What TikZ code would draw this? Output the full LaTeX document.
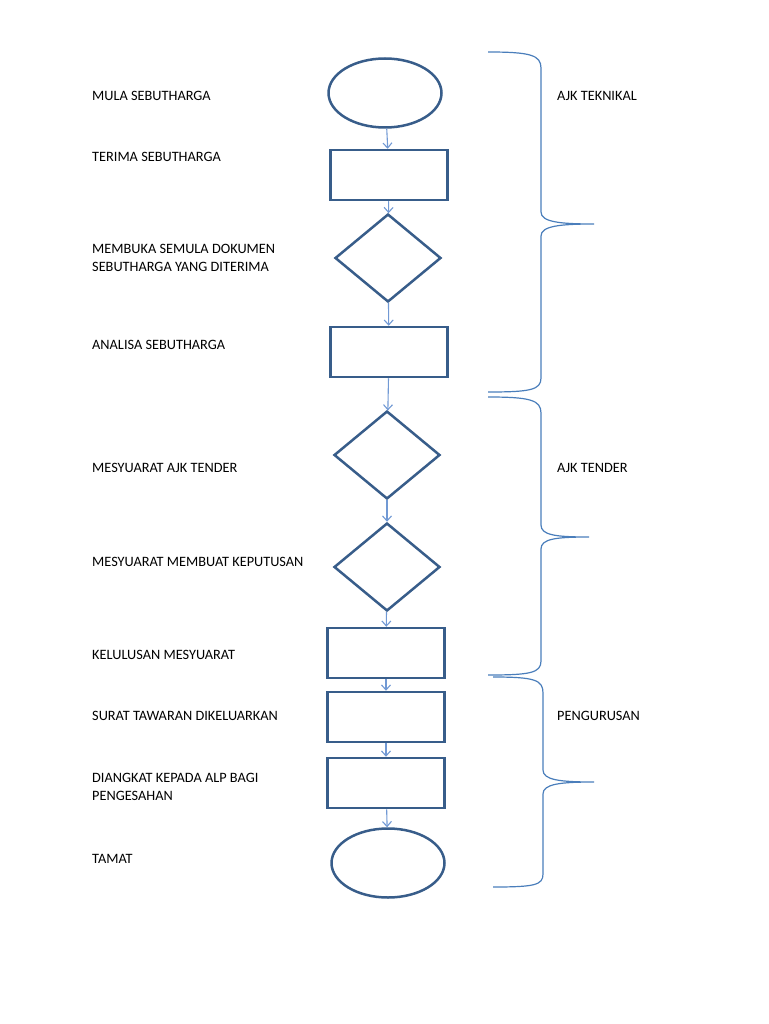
\documentclass[tikz,border=0pt]{standalone}
\usepackage{fontspec}
\setmainfont{Carlito}
\usetikzlibrary{shapes.geometric,arrows.meta}

\definecolor{shapeblue}{HTML}{385D8A}
\definecolor{arrowblue}{HTML}{7199D4}
\definecolor{braceblue}{HTML}{4A7EBB}

\begin{document}
\begin{tikzpicture}[x=1pt, y=-1pt,
    every node/.style={font=\fontsize{14.3}{17.5}\selectfont},
    endpoint/.style={ellipse, draw=shapeblue, line width=2.5pt, minimum width=113pt, minimum height=69pt},
    process/.style={rectangle, draw=shapeblue, line width=2.5pt, minimum width=117pt, minimum height=50pt},
    decision/.style={diamond, draw=shapeblue, line width=2.5pt, minimum width=106pt, minimum height=88pt, inner sep=0pt},
    flow/.style={draw=arrowblue, line width=1.1pt, -{Straight Barb[length=5pt,width=9pt]}},
    brace/.style={draw=braceblue, line width=1.2pt},
    label/.style={anchor=west, align=left, inner sep=0pt}]
    \useasboundingbox (0,0) rectangle (768,1024);

    % flow shapes
    \node[endpoint] (mula) at (385,93) {};
    \node[process] (terima) at (389,175) {};
    \node[decision] (buka) at (388,258) {};
    \node[process] (analisa) at (389,352) {};
    \node[decision] (ajk) at (387,455) {};
    \node[decision] (putus) at (387,567) {};
    \node[process] (lulus) at (386,653) {};
    \node[process] (surat) at (386,717) {};
    \node[process] (angkat) at (386,783) {};
    \node[endpoint] (tamat) at (388,863) {};

    % connectors
    \draw[flow] (mula) -- (terima);
    \draw[flow] (terima) -- (buka);
    \draw[flow] (buka) -- (analisa);
    \draw[flow] (analisa) -- (ajk);
    \draw[flow] (ajk) -- (putus);
    \draw[flow] (putus) -- (lulus);
    \draw[flow] (lulus) -- (surat);
    \draw[flow] (surat) -- (angkat);
    \draw[flow] (angkat) -- (tamat);

    % step labels
    \node[label] (tmula) at (92,96) {MULA SEBUTHARGA};
    \node[label] (tterima) at (92,157) {TERIMA SEBUTHARGA};
    \node[label] (tbuka) at (92,258) {MEMBUKA SEMULA DOKUMEN\\SEBUTHARGA YANG DITERIMA};
    \node[label] (tanalisa) at (92,345) {ANALISA SEBUTHARGA};
    \node[label] (tajk) at (92,468) {MESYUARAT AJK TENDER};
    \node[label] (tputus) at (92,562) {MESYUARAT MEMBUAT KEPUTUSAN};
    \node[label] (tlulus) at (92,655) {KELULUSAN MESYUARAT};
    \node[label] (tsurat) at (92,716) {SURAT TAWARAN DIKELUARKAN};
    \node[label] (tangkat) at (92,787) {DIANGKAT KEPADA ALP BAGI\\PENGESAHAN};
    \node[label] (ttamat) at (92,859) {TAMAT};

    % braces
    \draw[brace] (488,52) .. controls (530,52) and (541,55) .. (541,68) -- (541,212)
        .. controls (541,222) and (560,224) .. (594,224)
        .. controls (560,224) and (541,226) .. (541,236) -- (541,378)
        .. controls (541,390) and (530,392) .. (488,392);
    \draw[brace] (488,397) .. controls (530,397) and (541,400) .. (541,413) -- (541,525)
        .. controls (541,535) and (555,537) .. (589,537)
        .. controls (555,537) and (541,539) .. (541,549) -- (541,661)
        .. controls (541,673) and (530,675) .. (488,675);
    \draw[brace] (493,677) .. controls (535,677) and (543,680) .. (543,693) -- (543,770)
        .. controls (543,780) and (560,782) .. (594,782)
        .. controls (560,782) and (543,784) .. (543,794) -- (543,874)
        .. controls (543,885) and (535,887) .. (493,887);

    % group labels
    \node[label] (teknikal) at (557,96) {AJK TEKNIKAL};
    \node[label] (tender) at (557,468) {AJK TENDER};
    \node[label] (urus) at (557,716) {PENGURUSAN};
\end{tikzpicture}
\end{document}
